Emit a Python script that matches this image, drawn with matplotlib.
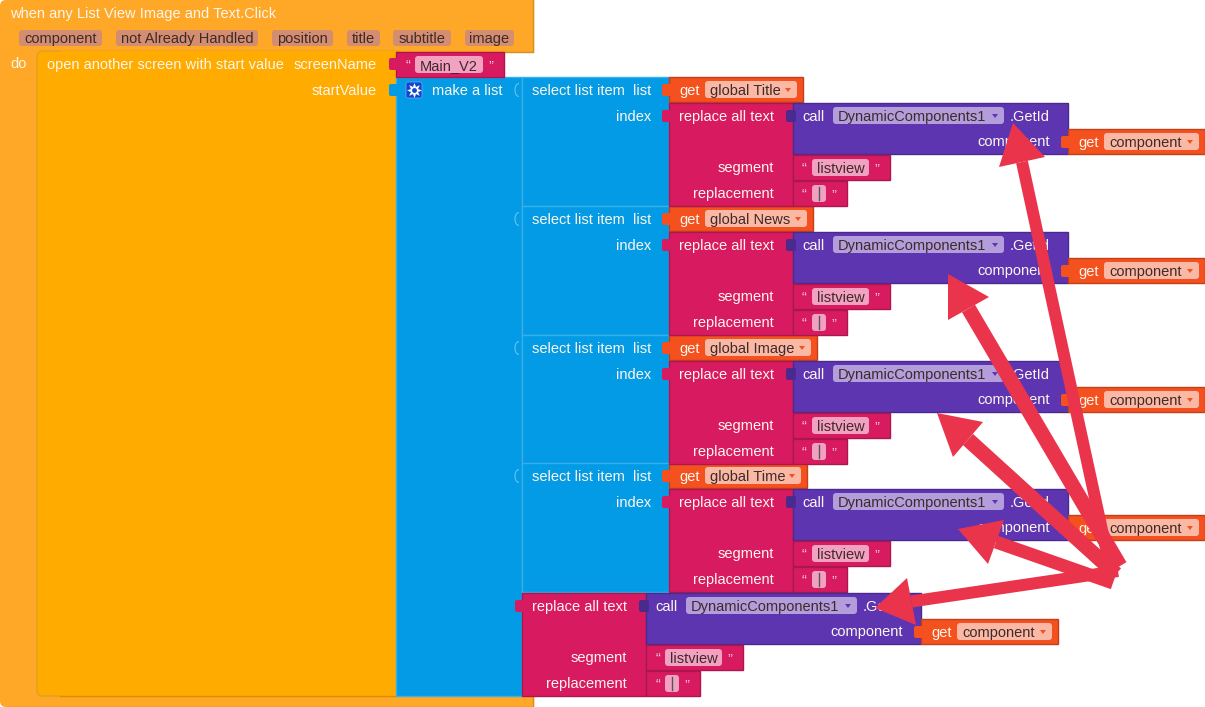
import matplotlib
matplotlib.use("Agg")
import matplotlib.pyplot as plt
from matplotlib.patches import Arc, FancyBboxPatch, Polygon, Rectangle

plt.rcParams["font.family"] = ["Liberation Sans", "DejaVu Sans"]

ARGS = ["component", "not Already Handled", "position", "title", "subtitle", "image"]
ARG_SPANS = [(19, 102), (116, 258), (272, 333), (347, 380), (393, 451), (465, 514)]
GLOBALS = ["global Title", "global News", "global Image", "global Time"]
GET_RIGHT = [803, 813, 817, 807]
ROW_TOPS = [77, 206, 335, 463]

# tail, tip, wing, wing, shaft width in px
ARROWS = [
    ((1112, 576), (1013, 123), (999, 167), (1045, 157), 12),
    ((1120, 566), (948, 274), (989, 297), (948, 320), 15),
    ((1116, 574), (937, 413), (983, 422), (953, 457), 15),
    ((1113, 583), (958, 529), (1004, 520), (988, 564), 13),
    ((1118, 571), (875, 608), (907, 578), (916, 625), 12),
]

ORANGE = "#ffa726"
AMBER = "#ffab00"
BLUE = "#039be5"
PINK = "#d81b60"
PURPLE = "#5e35b1"
GET = "#f4511e"
RED = "#ea344c"
WHITE = "#fdf6ee"
DARK = "#3d2a2a"

fig = plt.figure(figsize=(12.05, 7.07), dpi=100)
ax = fig.add_axes([0, 0, 1, 1])
ax.set_xlim(0, 1205)
ax.set_ylim(707, 0)
ax.axis("off")


def block(x0, y0, x1, y1, color, edge=None, z=2):
    ax.add_patch(Rectangle((x0, y0), x1 - x0, y1 - y0, fc=color,
                           ec=edge or color, lw=1, zorder=z))


def label(x, y, s, ha="left", color=WHITE, z=6):
    ax.text(x, y + 5, s, ha=ha, va="baseline", fontsize=10.55, color=color, zorder=z)


def pill(x0, y0, x1, y1, color, z=4):
    ax.add_patch(FancyBboxPatch((x0 + 3, y0 + 3), x1 - x0 - 6, y1 - y0 - 6,
                                boxstyle="round,pad=3", fc=color, ec="none", zorder=z))


def tab(x, y, color):
    ax.add_patch(FancyBboxPatch((x - 5, y - 4), 6, 8, boxstyle="round,pad=2",
                                fc=color, ec="none", zorder=5))


def tri(x, y, color):
    ax.add_patch(Polygon([(x - 3, y - 2), (x + 3, y - 2), (x, y + 2)], fc=color, ec="none", zorder=6))


def text_block(x0, y0, x1, y1, s):
    block(x0, y0, x1, y1, PINK, "#ad164d", 3)
    label(x0 + 9, y0 + 13, "\u201c", color="#f9c6da")
    label(x1 - 16, y0 + 13, "\u201d", color="#f9c6da")
    pill(x0 + 19, y0 + 4, x1 - 21, y0 + 21, "#f3a1c0")
    label((x0 + x1 - 2) / 2, y0 + 13, s, ha="center", color=DARK)


def get_block(x0, y0, x1, s):
    block(x0, y0, x1, y0 + 25, GET, "#c3411a", 3)
    tab(x0, y0 + 13, GET)
    label(x0 + 10, y0 + 13, "get")
    pill(x0 + 36, y0 + 4, x1 - 6, y0 + 21, "#fbb9a5")
    label(x0 + 41, y0 + 13, s, color=DARK)
    tri(x1 - 15, y0 + 13, GET)


def replace_block(x0, y0):
    block(x0, y0, x0 + 124, y0 + 103, PINK, "#ad164d", 3)
    tab(x0, y0 + 13, PINK)
    label(x0 + 10, y0 + 13, "replace all text")
    label(x0 + 105, y0 + 64, "segment", ha="right")
    label(x0 + 105, y0 + 90, "replacement", ha="right")
    cx = x0 + 124
    block(cx, y0, cx + 275, y0 + 51, PURPLE, "#4b2a8e", 3)
    tab(cx, y0 + 13, "#4b2a8e")
    label(cx + 9, y0 + 13, "call")
    pill(cx + 40, y0 + 4, cx + 211, y0 + 21, "#b39ddb")
    label(cx + 45, y0 + 13, "DynamicComponents1", color=DARK)
    tri(cx + 202, y0 + 13, PURPLE)
    label(cx + 217, y0 + 13, ".GetId")
    label(cx + 257, y0 + 38, "component", ha="right")
    get_block(cx + 275, y0 + 26, cx + 412, "component")
    text_block(cx, y0 + 52, cx + 97, y0 + 77, "listview")
    # empty text block with a caret
    block(cx, y0 + 78, cx + 54, y0 + 103, PINK, "#ad164d", 3)
    label(cx + 9, y0 + 91, "\u201c", color="#f9c6da")
    label(cx + 38, y0 + 91, "\u201d", color="#f9c6da")
    pill(cx + 19, y0 + 82, cx + 33, y0 + 99, "#f3a1c0")
    ax.plot([cx + 26, cx + 26], [y0 + 84, y0 + 97], color="#555555", lw=1, zorder=6)


# event block
ax.add_patch(FancyBboxPatch((6, 6), 40, 695, boxstyle="round,pad=6", fc=ORANGE, ec="none", zorder=1))
block(10, 0, 532.5, 51, ORANGE)
block(10, 696, 532.5, 706, ORANGE)
ax.plot([10, 533], [706.5, 706.5], color="#d98f20", lw=1, zorder=2)
ax.plot([533, 533], [0, 51], color="#d98f20", lw=1, zorder=2)
ax.plot([533, 533], [696, 706], color="#d98f20", lw=1, zorder=2)
ax.add_patch(FancyBboxPatch((43, 57), 353, 633, boxstyle="round,pad=6", fc=AMBER,
                            ec="#e0a020", lw=1, zorder=2))
block(60, 51, 396, 696, AMBER, z=2)
ax.plot([60, 396], [696, 696], color="#d98f00", lw=1, zorder=2)
ax.plot([396, 533], [51.5, 51.5], color="#d98f20", lw=1, zorder=2)
label(10, 13, "when any List View Image and Text.Click")
for name, (x0, x1) in zip(ARGS, ARG_SPANS):
    pill(x0, 30, x1, 46, "#d38d70")
    label((x0 + x1) / 2, 38, name, ha="center", color=DARK)
label(10, 63, "do")
label(47, 64, "open another screen with start value")
label(377, 64, "screenName", ha="right")
label(377, 90, "startValue", ha="right")

# list block
block(396, 77, 522, 696, BLUE, "#35b0ea")
tab(396, 90, BLUE)
text_block(396, 52, 504, 77, "Main_V2")
tab(396, 64, PINK)
ax.add_patch(FancyBboxPatch((408, 84), 12, 12, boxstyle="round,pad=2", fc="#0d47d0",
                            ec="#6f9cf0", lw=0.6, zorder=5))
ax.plot([414], [90], marker=(8, 1, 0), ms=10, mfc="white", mec="white", mew=0.3, zorder=6)
ax.plot([414], [90], marker="o", ms=3.5, mfc="#0d47d0", mec="none", zorder=7)
label(432, 90, "make a list")

for top, name, right in zip(ROW_TOPS, GLOBALS, GET_RIGHT):
    block(522, top, 669, top + 129, BLUE, "#35b0ea")
    # socket on the list block, only a faint curve
    ax.add_patch(Arc((519, top + 13), 8, 13, theta1=90, theta2=270, ec="#5cc0ee", lw=0.9, zorder=5))
    label(532, top + 13, "select list item")
    label(651, top + 13, "list", ha="right")
    label(651, top + 39, "index", ha="right")
    get_block(669, top, right, name)

for top in ROW_TOPS:
    replace_block(669, top + 26)
replace_block(522, 593)

# red arrows over everything
for tail, tip, w1, w2, width in ARROWS:
    bx = (w1[0] + w2[0]) / 2
    by = (w1[1] + w2[1]) / 2
    ax.plot([bx, tail[0]], [by, tail[1]], color=RED, lw=width * 0.72, solid_capstyle="butt", zorder=10)
    ax.add_patch(Polygon([tip, w1, w2], fc=RED, ec="none", zorder=11))

fig.savefig("out.png", dpi=100)
